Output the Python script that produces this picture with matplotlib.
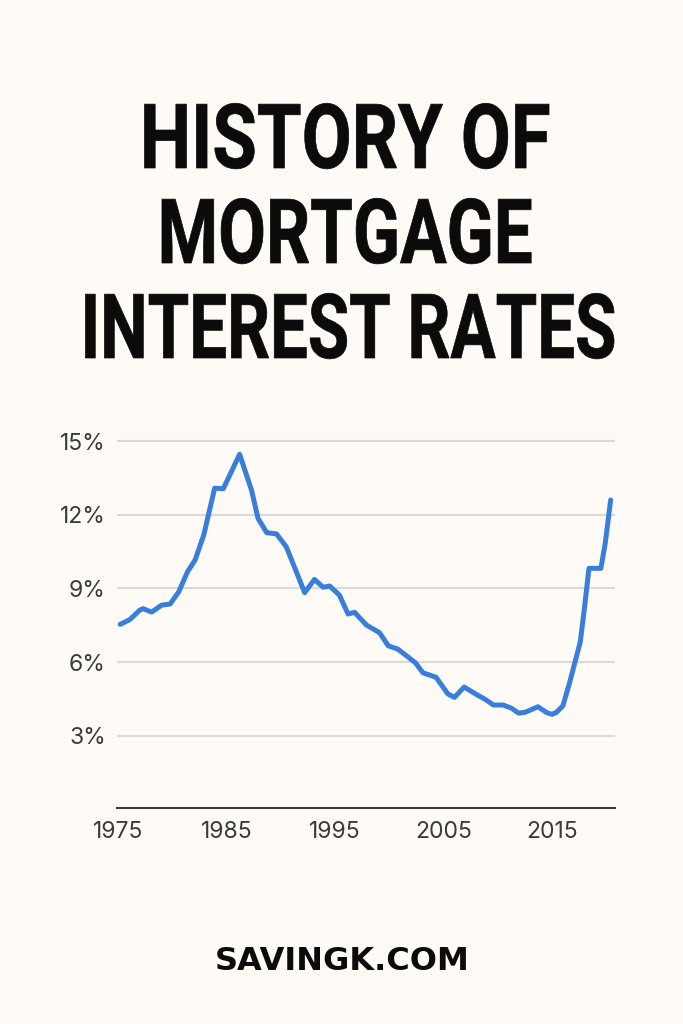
import matplotlib
matplotlib.use("Agg")
import matplotlib.pyplot as plt
from matplotlib.patheffects import AbstractPathEffect
from matplotlib.transforms import Affine2D

years = [1975.2,1976.1,1977.0,1977.3,1978.1,1979.0,1979.8,1980.6,1981.4,1982.1,1982.9,1983.9,1984.7,1986.2,1987.3,1987.9,1988.7,1989.6,1990.5,1992.2,1993.1,1993.9,1994.5,1995.4,1996.2,1996.8,1997.3,1997.9,1999.1,1999.9,2000.8,2002.4,2003.1,2004.3,2005.4,2006.0,2006.9,2008.1,2008.8,2009.6,2010.5,2011.3,2011.9,2012.5,2013.7,2014.5,2015.0,2015.4,2016.0,2016.6,2017.6,2018.0,2018.4,2019.5,2019.9,2020.4]
rates = [7.54,7.74,8.12,8.18,8.04,8.32,8.37,8.87,9.68,10.16,11.18,13.08,13.06,14.46,13.0,11.85,11.27,11.22,10.7,8.83,9.37,9.05,9.1,8.73,7.96,8.03,7.79,7.51,7.2,6.67,6.53,5.98,5.57,5.39,4.71,4.57,4.99,4.67,4.5,4.26,4.26,4.12,3.93,3.96,4.19,3.95,3.88,3.96,4.23,5.14,6.83,8.26,9.82,9.82,10.84,12.6]
yticks = [3,6,9,12,15]
ytick_labels = ["3%","6%","9%","12%","15%"]
xticks = [1975,1985,1995,2005,2015]
title_lines = ["HISTORY OF","MORTGAGE","INTEREST RATES"]
footer = "SAVINGK.COM"

W,H = 683,1024
BG = "#FEFBF6"
INK = "#0B0B0B"

class TallText(AbstractPathEffect):
    """Scale glyphs about a centre x and a baseline y (pixels) to look condensed."""
    def __init__(self, cx, baseline, sx, sy, weight):
        super().__init__()
        self.cx, self.baseline, self.sx, self.sy, self.weight = cx, baseline, sx, sy, weight
    def draw_path(self, renderer, gc, tpath, affine, rgbFace):
        a = affine + Affine2D().translate(-self.cx,-self.baseline).scale(self.sx,self.sy).translate(self.cx,self.baseline)
        gc0 = renderer.new_gc()
        gc0.copy_properties(gc)
        gc0.set_foreground(INK)
        gc0.set_linewidth(self.weight)
        renderer.draw_path(gc0, tpath, a, rgbFace)
        gc0.restore()

fig = plt.figure(figsize=(W/100,H/100),dpi=100,facecolor=BG)

top_px = 441-0.3*24.58
ax = fig.add_axes([117/W,1-808/H,(615-117)/W,(808-top_px)/H],facecolor="none")
ax.set_xlim(1974.9,2020.8)
ax.set_ylim(0.07,15.3)
ax.plot(years,rates,color="#3A7EDC",lw=3.6,solid_capstyle="round",solid_joinstyle="round",zorder=3)
ax.set_yticks(yticks,ytick_labels)
ax.set_xticks(xticks,[str(x) for x in xticks])
ax.grid(axis="y",color="#D9DAD9",lw=1.5)
ax.set_axisbelow(True)
for s in ["top","left","right"]:
    ax.spines[s].set_visible(False)
ax.spines["bottom"].set_color("#3D3D3D")
ax.spines["bottom"].set_linewidth(1.5)
ax.tick_params(axis="both",length=0,labelsize=16.5,labelcolor="#3A3A3A")
ax.tick_params(axis="y",pad=8)
ax.tick_params(axis="x",pad=9)
for t in ax.get_xticklabels()+ax.get_yticklabels():
    t.set_fontfamily("Inter")

for line,xc,base,sx in zip(title_lines,[345,345,348],[168,263,358],[1.11,1.06,1.03]):
    t = fig.text(xc/W,1-base/H,line,ha="center",va="baseline",family="Roboto",weight="bold",fontsize=47,color=INK)
    t.set_path_effects([TallText(xc,H-base,sx,64/46.5,0.5)])
fig.text(342.5/W,1-962/H,footer,ha="center",va="center",family="DejaVu Sans",weight="bold",fontsize=23,color=INK)
fig.savefig("out.png",dpi=100,facecolor=BG)
